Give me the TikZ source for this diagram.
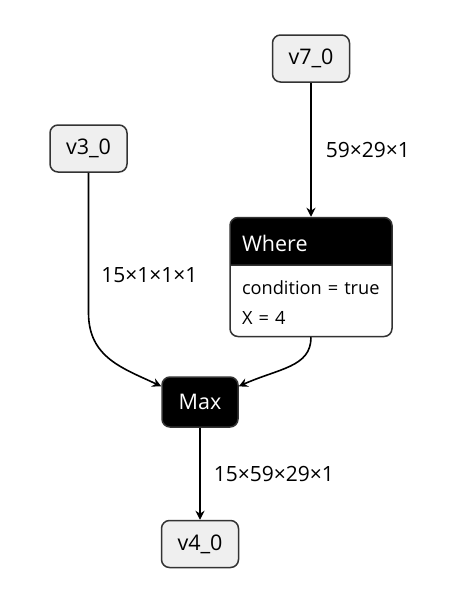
\documentclass[tikz,border=0pt]{standalone}
\usepackage{fontspec}
\setmainfont{Open Sans}
\usetikzlibrary{arrows.meta,positioning,shapes.multipart}

\definecolor{boxgray}{HTML}{EFEFEF}
\definecolor{rimgray}{HTML}{333333}

\tikzset{
  var/.style={draw=rimgray, fill=boxgray, line width=1.5pt, rounded corners=8pt,
    minimum width=77pt, minimum height=47pt, inner sep=0pt,
    font=\fontsize{21.5}{26}\selectfont},
  op/.style={draw=rimgray, fill=black, text=white, line width=1.5pt, rounded corners=8pt,
    minimum width=76pt, minimum height=50pt, inner sep=0pt,
    font=\fontsize{21.5}{26}\selectfont},
  opsplit/.style={draw=rimgray, line width=1.5pt, rounded corners=8pt,
    rectangle split, rectangle split parts=2,
    rectangle split part fill={black,white},
    rectangle split part align=left,
    text width=144pt, inner xsep=9pt, inner ysep=0pt,
    font=\fontsize{18.2}{30}\selectfont},
  flow/.style={-{Stealth[length=9pt,width=9pt,inset=3pt]}, line width=1.6pt},
  dims/.style={inner sep=0pt, font=\fontsize{21}{26}\selectfont}
}

\begin{document}
\begin{tikzpicture}[x=1pt, y=-1pt]
    \useasboundingbox (0,0) rectangle (454,595);

    \node[var] (v7) at (311,58.5) {v7\_0};
    \node[var] (v3) at (88.5,148.5) {v3\_0};
    \node[opsplit, below=134pt of v7] (where)
      {\hspace*{3pt}\textcolor{white}{\fontsize{21.5}{26}\selectfont\rule[-13pt]{0pt}{46pt}Where}%
       \nodepart{two}\rule{0pt}{29pt}\hspace*{3pt}condition = true\\\hspace*{3pt}X = 4\rule[-11pt]{0pt}{11pt}};
    \node[op] (max) at (200,402) {Max};
    \node[var, below=92pt of max] (v4) {v4\_0};

    \draw[flow] (v7) -- node[dims, right=14pt] {59×29×1} (where);
    \draw[flow] (v3.south) -- node[dims, pos=0.73, right=12pt] {15×1×1×1} ++(0,140)
      .. controls +(0,45) and +(-38,-18) .. (max.158);
    \draw[flow] (where.south) .. controls +(0,30) and +(40,-18) .. (max.22);
    \draw[flow] (max) -- node[dims, right=13pt] {15×59×29×1} (v4);
\end{tikzpicture}
\end{document}
